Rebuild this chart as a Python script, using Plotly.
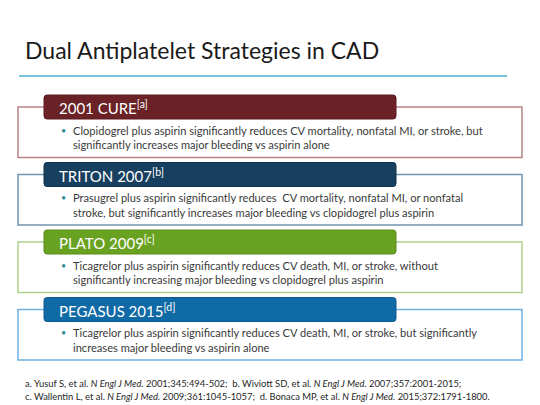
import plotly.graph_objects as go

# ---- data ----
slide_title = "Dual Antiplatelet Strategies in CAD"
trial_names = ["2001 CURE", "TRITON 2007", "PLATO 2009", "PEGASUS 2015"]
trial_refs = ["[a]", "[b]", "[c]", "[d]"]
trial_findings = [
    ["Clopidogrel plus aspirin significantly reduces CV mortality, nonfatal MI, or stroke, but",
     "significantly increases major bleeding vs aspirin alone"],
    ["Prasugrel plus aspirin significantly reduces  CV mortality, nonfatal MI, or nonfatal",
     "stroke, but significantly increases major bleeding vs clopidogrel plus aspirin"],
    ["Ticagrelor plus aspirin significantly reduces CV death, MI, or stroke, without",
     "significantly increasing major bleeding vs clopidogrel plus aspirin"],
    ["Ticagrelor plus aspirin significantly reduces CV death, MI, or stroke, but significantly",
     "increases major bleeding vs aspirin alone"],
]
footnotes = [
    "a. Yusuf S, et al. <i>N Engl J Med.</i> 2001;345:494-502;  b. Wiviott SD, et al. <i>N Engl J Med.</i> 2007;357:2001-2015;",
    "c. Wallentin L, et al. <i>N Engl J Med.</i> 2009;361:1045-1057;  d. Bonaca MP, et al. <i>N Engl J Med.</i> 2015;372:1791-1800.",
]

# ---- style ----
header_fill = ["#6b2226", "#173f5f", "#69a220", "#0f6aa5"]
header_edge = ["#5a1a1e", "#10324d", "#5a8c1a", "#0b5a8e"]
box_edge = ["#b98486", "#7194b0", "#aad28a", "#6fb0de"]
FONT = "Lato"
W, H = 540, 405
OFF = 8  # page body margin compensation

fig = go.Figure()
shapes, annots = [], []

def rounded(x0, y0, x1, y1, r):
    return (f"M {x0+r},{y0} L {x1-r},{y0} Q {x1},{y0} {x1},{y0+r} "
            f"L {x1},{y1-r} Q {x1},{y1} {x1-r},{y1} L {x0+r},{y1} "
            f"Q {x0},{y1} {x0},{y1-r} L {x0},{y0+r} Q {x0},{y0} {x0+r},{y0} Z")

# title + rule
annots.append(dict(x=23, y=50, text=slide_title, showarrow=False, xanchor="left",
                   yanchor="middle", font=dict(family=FONT, size=23, color="#1a1a1a")))
shapes.append(dict(type="line", x0=19, x1=507, y0=76, y1=76,
                   line=dict(color="#4aaec8", width=1.5)))

for i, (name, ref, lines) in enumerate(zip(trial_names, trial_refs, trial_findings)):
    ht = 95 + 67.5 * i
    bt = ht + 12
    bb = bt + 50.5
    shapes.append(dict(type="rect", x0=18, x1=522, y0=bt, y1=bb,
                       line=dict(color=box_edge[i], width=1.5), fillcolor="white"))
    shapes.append(dict(type="path", path=rounded(44, ht, 396, ht + 24, 3),
                       fillcolor=header_fill[i], line=dict(color=header_edge[i], width=1)))
    annots.append(dict(x=57, y=ht + 12.5, text=f"{name}<sup>{ref}</sup>", showarrow=False,
                       xanchor="left", yanchor="middle",
                       font=dict(family=FONT, size=15, color="white")))
    for j, ln in enumerate(lines):
        yy = bt + 23 + 14.5 * j
        if j == 0:
            annots.append(dict(x=59, y=yy, text="•", showarrow=False, xanchor="left",
                               yanchor="middle", font=dict(family=FONT, size=9, color="#2e8b98")))
        annots.append(dict(x=71, y=yy, text=ln, showarrow=False, xanchor="left",
                           yanchor="middle", font=dict(family=FONT, size=11.1, color="#3a3a3a")))

for k, fn in enumerate(footnotes):
    annots.append(dict(x=23, y=383 + 13 * k, text=fn, showarrow=False, xanchor="left",
                       yanchor="middle", font=dict(family=FONT, size=9.4, color="#262626")))

fig.update_layout(
    width=W, height=H, margin=dict(l=0, r=0, t=0, b=0),
    paper_bgcolor="white", plot_bgcolor="white",
    xaxis=dict(range=[OFF, W + OFF], visible=False, fixedrange=True),
    yaxis=dict(range=[H + OFF, OFF], visible=False, fixedrange=True),
    shapes=shapes, annotations=annots, showlegend=False,
)
fig.write_html("out.html")
